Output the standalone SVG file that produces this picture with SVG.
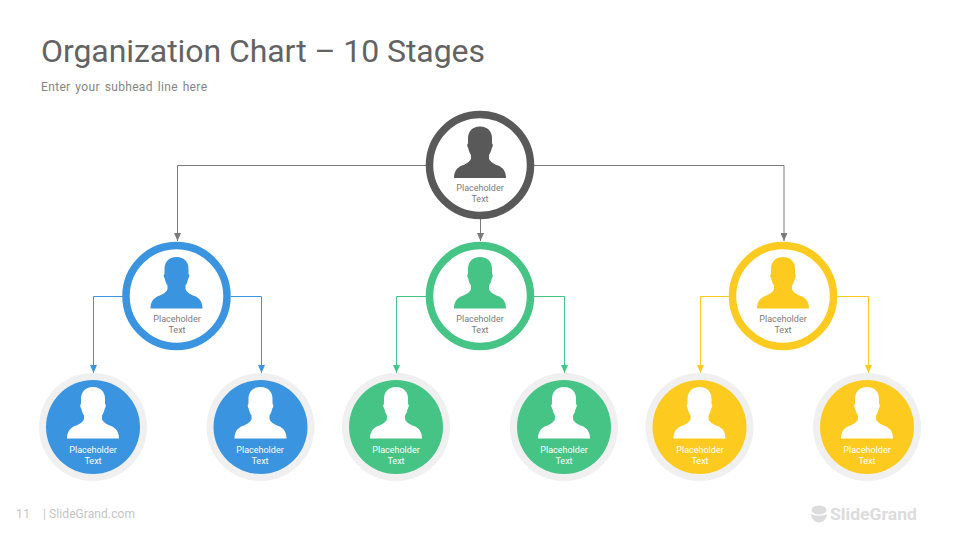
<svg xmlns="http://www.w3.org/2000/svg" width="960" height="540" viewBox="0 0 960 540">
<style>
text{font-family:Roboto,"Liberation Sans",sans-serif}
.lbl{font-size:9px;text-anchor:middle;fill:#7c7c7c}
.wl{font-size:9px;text-anchor:middle;fill:#fff}
.c{fill:none;stroke-width:1}
.gy{stroke:#7a7a7a}.bl{stroke:#3a94e0}.gr{stroke:#45c486}.ye{stroke:#fdcb1f}
.ring{fill:#fff;stroke-width:7.5}
.halo{fill:#f0f0f0}
</style>
<defs>
<path id="p" d="M0 0C-8 0-12 5-12 12L-12 17C-13 17-13 20-12 21C-11 24-10.500 26.500-9 28.500L-9 32C-10 35.500-14 37.500-18 39C-23 41-26 45-26 51.500L26 51.500C26 45 23 41 18 39C14 37.500 10 35.500 9 32L9 28.500C10.500 26.500 11 24 12 21C13 20 13 17 12 17L12 12C12 5 8 0 0 0Z"/>
<marker id="ag" markerUnits="userSpaceOnUse" markerWidth="8" markerHeight="7" refX="8" refY="3.500" orient="auto"><path d="M0 0L8 3.500L0 7Z" fill="#7a7a7a"/></marker>
<marker id="ab" markerUnits="userSpaceOnUse" markerWidth="8" markerHeight="7" refX="8" refY="3.500" orient="auto"><path d="M0 0L8 3.500L0 7Z" fill="#3a94e0"/></marker>
<marker id="agr" markerUnits="userSpaceOnUse" markerWidth="8" markerHeight="7" refX="8" refY="3.500" orient="auto"><path d="M0 0L8 3.500L0 7Z" fill="#45c486"/></marker>
<marker id="ay" markerUnits="userSpaceOnUse" markerWidth="8" markerHeight="7" refX="8" refY="3.500" orient="auto"><path d="M0 0L8 3.500L0 7Z" fill="#fdcb1f"/></marker>
</defs>
<rect width="960" height="540" fill="#fff"/>
<text x="41" y="62" font-size="32" fill="#636363" textLength="444" lengthAdjust="spacing">Organization Chart – 10 Stages</text>
<text x="41" y="91" font-size="12" fill="#858585" word-spacing="1.500" textLength="166" lengthAdjust="spacing">Enter your subhead line here</text>
<g id="connectors">
<path class="c gy" d="M427 165.500H177.500V241" marker-end="url(#ag)"/>
<path class="c gy" d="M533 165.500H784V241" marker-end="url(#ag)"/>
<path class="c gy" d="M480.500 219V241" marker-end="url(#ag)"/>
<path class="c bl" d="M123 296.500H93.500V373" marker-end="url(#ab)"/>
<path class="c bl" d="M231 296.500H261.500V373" marker-end="url(#ab)"/>
<path class="c gr" d="M426 296.500H396.500V373" marker-end="url(#agr)"/>
<path class="c gr" d="M534 296.500H564.500V373" marker-end="url(#agr)"/>
<path class="c ye" d="M729 296.500H700.500V373" marker-end="url(#ay)"/>
<path class="c ye" d="M837 296.500H868.500V373" marker-end="url(#ay)"/>
</g>
<g id="n-top"><circle class="ring" cx="480" cy="165" r="50.500" stroke="#595959"/><use href="#p" x="480" y="126.500" fill="#595959"/><text class="lbl" x="480" y="191">Placeholder</text><text class="lbl" x="480" y="202">Text</text></g>
<g id="n-mid-blue"><circle class="ring" cx="176.500" cy="296" r="50.500" stroke="#3a94e0"/><use href="#p" x="176.500" y="257" fill="#3a94e0"/><text class="lbl" x="177" y="322">Placeholder</text><text class="lbl" x="177" y="333">Text</text></g>
<g id="n-mid-green"><circle class="ring" cx="480" cy="296" r="50.500" stroke="#45c486"/><use href="#p" x="480" y="257" fill="#45c486"/><text class="lbl" x="480" y="322">Placeholder</text><text class="lbl" x="480" y="333">Text</text></g>
<g id="n-mid-yellow"><circle class="ring" cx="783" cy="296" r="50.500" stroke="#fdcb1f"/><use href="#p" x="783" y="257" fill="#fdcb1f"/><text class="lbl" x="783" y="322">Placeholder</text><text class="lbl" x="783" y="333">Text</text></g>
<g id="n-b1"><circle class="halo" cx="93" cy="427" r="54"/><circle cx="93" cy="427" r="47" fill="#3a94e0"/><use href="#p" x="93" y="387" fill="#fff"/><text class="wl" x="93" y="453">Placeholder</text><text class="wl" x="93" y="464">Text</text></g>
<g id="n-b2"><circle class="halo" cx="260.500" cy="427" r="54"/><circle cx="260.500" cy="427" r="47" fill="#3a94e0"/><use href="#p" x="260.500" y="387" fill="#fff"/><text class="wl" x="260" y="453">Placeholder</text><text class="wl" x="260" y="464">Text</text></g>
<g id="n-b3"><circle class="halo" cx="396" cy="427" r="54"/><circle cx="396" cy="427" r="47" fill="#45c486"/><use href="#p" x="396" y="387" fill="#fff"/><text class="wl" x="396" y="453">Placeholder</text><text class="wl" x="396" y="464">Text</text></g>
<g id="n-b4"><circle class="halo" cx="564" cy="427" r="54"/><circle cx="564" cy="427" r="47" fill="#45c486"/><use href="#p" x="564" y="387" fill="#fff"/><text class="wl" x="564" y="453">Placeholder</text><text class="wl" x="564" y="464">Text</text></g>
<g id="n-b5"><circle class="halo" cx="699.500" cy="427" r="54"/><circle cx="699.500" cy="427" r="47" fill="#fdcb1f"/><use href="#p" x="699.500" y="387" fill="#fff"/><text class="wl" x="700" y="453">Placeholder</text><text class="wl" x="700" y="464">Text</text></g>
<g id="n-b6"><circle class="halo" cx="867" cy="427" r="54"/><circle cx="867" cy="427" r="47" fill="#fdcb1f"/><use href="#p" x="867" y="387" fill="#fff"/><text class="wl" x="867" y="453">Placeholder</text><text class="wl" x="867" y="464">Text</text></g>
<text x="16" y="518" font-size="12" fill="#c4c4c4" textLength="14">11</text>
<text x="43" y="518" font-size="12" fill="#c4c4c4" textLength="92">| SlideGrand.com</text>
<g id="logo">
<ellipse cx="819" cy="510" rx="7.500" ry="4.500" fill="#dcdcdc"/>
<path d="M811 513.500C813.500 516.500 824.500 516.500 827 513.500C827 519 823.500 522.500 819 522.500C814.500 522.500 811 519 811 513.500Z" fill="#dcdcdc"/>
<text x="830" y="520" font-size="17" font-weight="700" fill="#dcdcdc" textLength="87" lengthAdjust="spacingAndGlyphs">SlideGrand</text>
</g>
</svg>
